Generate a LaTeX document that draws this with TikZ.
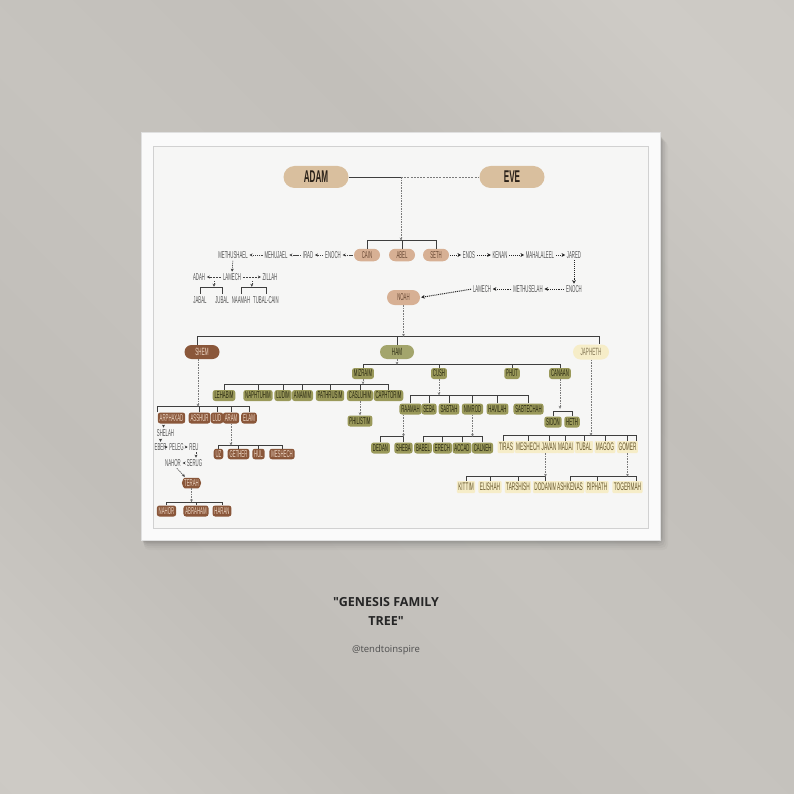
\documentclass[tikz,border=0pt]{standalone}
\usepackage{fontspec}
\usetikzlibrary{arrows.meta,shapes.misc,calc}
\newfontfamily\lab[FakeStretch=0.43]{Liberation Sans}
\newfontfamily\labw[FakeStretch=0.48]{Liberation Sans}
\newfontfamily\titlef[Ligatures=TeXOff]{Open Sans}
\definecolor{bgA}{HTML}{CAC7C2}
\definecolor{bgB}{HTML}{CDCAC5}
\definecolor{bgD}{HTML}{C1BEB9}
\definecolor{bgE}{HTML}{C6C3BE}
\definecolor{bgF}{HTML}{C2BFBA}
\definecolor{bgG}{HTML}{CECBC6}
\definecolor{bgH}{HTML}{C9C6C1}
\definecolor{framec}{HTML}{FAFAFA}
\definecolor{paperc}{HTML}{F6F6F5}
\definecolor{tanc}{HTML}{D9BF9E}
\definecolor{inkc}{HTML}{2A2119}
\definecolor{rosec}{HTML}{D7B094}
\definecolor{rosetxt}{HTML}{6A4A36}
\definecolor{graytxt}{HTML}{555555}
\definecolor{olivec}{HTML}{9A995A}
\definecolor{olivetxt}{HTML}{2A2912}
\definecolor{hamc}{HTML}{A3A56C}
\definecolor{brownc}{HTML}{8A573A}
\definecolor{browntxt}{HTML}{ECD5C3}
\definecolor{yelc}{HTML}{F6EDC8}
\definecolor{yeltxt}{HTML}{65552A}
\definecolor{barc}{HTML}{3E3E3E}
\definecolor{dashc}{HTML}{7A7A7A}
\definecolor{titlec}{HTML}{262626}
\definecolor{handlec}{HTML}{4E4E4E}
\pgfdeclarehorizontalshading{bgshade}{100bp}{color(0bp)=(bgA); color(18bp)=(bgB); color(33bp)=(bgD); color(48bp)=(bgE); color(62bp)=(bgF); color(78bp)=(bgG); color(100bp)=(bgH)}
\tikzset{
  every node/.style={inner sep=0pt},
  tanbig/.style={rounded rectangle, fill=tanc, minimum width=65pt, minimum height=22pt,
    font=\labw\bfseries\fontsize{17}{17}\selectfont, text=inkc},
  tansm/.style={rounded rectangle, fill=rosec, minimum width=26pt, minimum height=12.5pt,
    font=\lab\fontsize{10}{10}\selectfont, text=rosetxt},
  plain/.style={font=\lab\fontsize{10}{10}\selectfont, text=graytxt, inner sep=0.6pt},
  boxbase/.style={rectangle, rounded corners=2.6pt, inner xsep=1.9pt, minimum height=11pt,
    font=\lab\fontsize{10}{10}\selectfont},
  olv/.style={boxbase, fill=olivec, text=olivetxt},
  brn/.style={boxbase, fill=brownc, text=browntxt},
  yel/.style={boxbase, rounded corners=1pt, minimum height=12pt, fill=yelc, text=yeltxt,
    font=\lab\fontsize{11}{11}\selectfont, inner xsep=1.4pt},
  bigpill/.style={rounded rectangle, minimum height=14pt, font=\lab\fontsize{10.5}{10.5}\selectfont},
  bar/.style={draw=barc, line width=0.7pt},
  solidl/.style={draw=barc, line width=0.8pt},
  dashl/.style={draw=dashc, line width=0.7pt, dash pattern=on 2pt off 1.2pt},
  darrow/.style={draw=dashc, line width=0.6pt, dash pattern=on 1.6pt off 1pt,
    -{Stealth[length=3pt,width=2.8pt]}},
  carrow/.style={draw=black!75, line width=0.6pt, dash pattern=on 1.3pt off 0.8pt,
    -{Stealth[length=3pt,width=3pt]}, shorten <=1.2pt, shorten >=1pt},
  dotarrow/.style={draw=black!85, line width=1pt, dash pattern=on 1pt off 0.9pt,
    -{Stealth[length=3.6pt,width=3.8pt]}, shorten <=1.2pt, shorten >=1pt},
}
\begin{document}
\begin{tikzpicture}[x=1pt,y=-1pt]
\useasboundingbox (0,0) rectangle (794,794);
% ---------- background ----------
\shade[shading=bgshade, shading angle=45] (0,0) rectangle (794,794);
% ---------- frame ----------
\foreach \o/\a in {10/0.025,8/0.03,6/0.04,4/0.05,2.5/0.06,1.2/0.07}{
  \fill[black,opacity=\a,rounded corners=5pt] (141+\o*0.3,132+\o*0.9) rectangle (660+\o*0.8,540+\o*1.0);
}
\fill[framec] (141,132) rectangle (660,540);
\draw[black!12,line width=0.5pt] (141,132) rectangle (660,540);
\fill[paperc] (153,146) rectangle (648,528);
\draw[black!18,line width=0.6pt] (153,146) rectangle (648,528);
% ---------- Adam & Eve ----------
\node[tanbig] (adam) at (316,177) {ADAM};
\node[tanbig] (eve) at (512,177) {EVE};
\coordinate (j1) at (401,177);
\draw[solidl] (adam.east) -- (j1);
\draw[dashl] (j1) -- (eve.west);
\node[tansm] (cain) at (367,255) {CAIN};
\node[tansm] (abel) at (402,255) {ABEL};
\node[tansm] (seth) at (436,255) {SETH};
\draw[bar] (cain.north) -- ++(0,-8) coordinate (b0) -| (seth.north);
\draw[bar] (abel.north) -- (abel.north |- b0);
\draw[darrow] (j1) -- (j1 |- b0);
% ---------- Cain line ----------
\node[plain] (enochA) at (333,255) {ENOCH};
\node[plain] (irad) at (308,255) {IRAD};
\node[plain] (mehujael) at (276,255) {MEHUJAEL};
\node[plain] (methushael) at (233,255) {METHUSHAEL};
\draw[carrow] (cain.west) -- (enochA.east);
\draw[carrow] (enochA.west) -- (irad.east);
\draw[carrow] (irad.west) -- (mehujael.east);
\draw[carrow] (mehujael.west) -- (methushael.east);
\node[plain] (lamechA) at (232,277) {LAMECH};
\node[plain] (adah) at (199,277) {ADAH};
\node[plain] (zillah) at (270,277) {ZILLAH};
\draw[carrow] (methushael.south) -- (lamechA.north);
\draw[carrow,dash pattern=on 0.8pt off 0.7pt] (lamechA.west) -- (adah.east);
\draw[carrow,dash pattern=on 0.8pt off 0.7pt] (lamechA.east) -- (zillah.west);
\node[plain] (jabal) at (200,300) {JABAL};
\node[plain] (jubal) at (222,300) {JUBAL};
\node[plain] (naamah) at (241,300) {NAAMAH};
\node[plain] (tubalcain) at (266,300) {TUBAL-CAIN};
\draw[solidl,line width=0.9pt] ([yshift=2pt]jabal.north) -- ++(0,-6) coordinate (bk1) -| ([yshift=2pt]jubal.north);
\draw[solidl,line width=0.9pt] ([yshift=2pt]naamah.north) -- ++(0,-6) coordinate (bk2) -| ([yshift=2pt]tubalcain.north);
\coordinate (m1) at ($(adah.east)!0.5!(lamechA.west)+(0,4)$);
\coordinate (m2) at ($(zillah.west)!0.5!(lamechA.east)+(0,4)$);
\draw[carrow,shorten <=0pt] (m1) -- (m1 |- bk1);
\draw[carrow,shorten <=0pt] (m2) -- (m2 |- bk2);
% ---------- Seth line ----------
\node[plain] (enos) at (469,255) {ENOS};
\node[plain] (kenan) at (500,255) {KENAN};
\node[plain] (mahalaleel) at (540,255) {MAHALALEEL};
\node[plain] (jared) at (574,255) {JARED};
\draw[dotarrow] (seth.east) -- (enos.west);
\draw[dotarrow] (enos.east) -- (kenan.west);
\draw[dotarrow] (kenan.east) -- (mahalaleel.west);
\draw[dotarrow] (mahalaleel.east) -- (jared.west);
\node[plain] (enochB) at (574,289) {ENOCH};
\node[plain] (methuselah) at (528,289) {METHUSELAH};
\node[plain] (lamechB) at (482,289) {LAMECH};
\node[tansm,minimum width=33pt,minimum height=15pt] (noah) at (403.5,297.5) {NOAH};
\draw[dotarrow] (jared.south) -- (enochB.north);
\draw[dotarrow] (enochB.west) -- (methuselah.east);
\draw[dotarrow] (methuselah.west) -- (lamechB.east);
\draw[dotarrow] (lamechB.west) -- (noah.east);
% ---------- Noah's sons ----------
\node[bigpill,fill=brownc,text=browntxt,minimum width=35pt] (shem) at (202,352) {SHEM};
\node[bigpill,fill=hamc,text=olivetxt,minimum width=34pt] (ham) at (397,352) {HAM};
\node[bigpill,fill=yelc,text=yeltxt!80!white,minimum width=36pt,minimum height=15pt] (japheth) at (591,352) {JAPHETH};
\draw[bar] ([xshift=-5pt]shem.north) -- ++(0,-8) coordinate (b1) -| ([xshift=8pt]japheth.north);
\draw[bar] (ham.north) -- (ham.north |- b1);
\draw[darrow] (noah.south) -- (noah.south |- b1);
% ---------- Ham ----------
\node[olv] (mizraim) at (363,373.5) {MIZRAIM};
\node[olv] (cush) at (439,373.5) {CUSH};
\node[olv] (phut) at (512,373.5) {PHUT};
\node[olv] (canaan) at (560,373.5) {CANAAN};
\draw[bar] (mizraim.north) -- ++(0,-3) coordinate (b2) -| (canaan.north);
\foreach \n in {cush,phut} \draw[bar] (\n.north) -- (\n.north |- b2);
\draw[darrow] (ham.south) -- (ham.south |- b2);
% Mizraim
\node[olv] (lehabim) at (224,395.5) {LEHABIM};
\node[olv] (naphtuhim) at (258,395.5) {NAPHTUHIM};
\node[olv] (ludim) at (283,395.5) {LUDIM};
\node[olv] (anamim) at (302.5,395.5) {ANAMIM};
\node[olv] (pathrusim) at (330,395.5) {PATHRUSIM};
\node[olv] (casluhim) at (360,395.5) {CASLUHIM};
\node[olv] (caphtorim) at (388.5,395.5) {CAPHTORIM};
\node[olv] (philistim) at (360,421) {PHILISTIM};
\draw[bar] (lehabim.north) -- ++(0,-5.5) coordinate (b3) -| (caphtorim.north);
\foreach \n in {naphtuhim,ludim,anamim,pathrusim,casluhim} \draw[bar] (\n.north) -- (\n.north |- b3);
\draw[darrow] (mizraim.south) -- (mizraim.south |- b3);
\draw[darrow] (casluhim.south) -- (philistim.north);
% Cush
\node[olv] (raamah) at (410.5,409) {RAAMAH};
\node[olv] (seba) at (429,409) {SEBA};
\node[olv] (sabtah) at (449,409) {SABTAH};
\node[olv] (nimrod) at (472.5,409) {NIMROD};
\node[olv] (havilah) at (497.5,409) {HAVILAH};
\node[olv] (sabtechah) at (528.5,409) {SABTECHAH};
\draw[bar] (raamah.north) -- ++(0,-8) coordinate (b4) -| (sabtechah.north);
\foreach \n in {seba,sabtah,nimrod,havilah} \draw[bar] (\n.north) -- (\n.north |- b4);
\draw[darrow] (cush.south) -- (cush.south |- b4);
\node[olv] (dedan) at (380.5,448) {DEDAN};
\node[olv] (sheba) at (403.5,448) {SHEBA};
\draw[bar] (dedan.north) -- ++(0,-5.5) coordinate (b5) -| (sheba.north);
\draw[darrow] (raamah.south -| sheba.north) -- (sheba.north |- b5);
\node[olv] (babel) at (423,448) {BABEL};
\node[olv] (erech) at (442.5,448) {ERECH};
\node[olv] (accad) at (462,448) {ACCAD};
\node[olv] (calneh) at (482.5,448) {CALNEH};
\draw[bar] (babel.north) -- ++(0,-5.5) coordinate (b6) -| (calneh.north);
\foreach \n in {erech,accad} \draw[bar] (\n.north) -- (\n.north |- b6);
\draw[darrow] (nimrod.south) -- (nimrod.south |- b6);
\node[olv] (sidon) at (553,422) {SIDON};
\node[olv] (heth) at (572,422) {HETH};
\draw[bar] (sidon.north) -- ++(0,-4.5) coordinate (b7) -| (heth.north);
\draw[darrow] (canaan.south) -- ([yshift=3pt]canaan.south |- b7);
% ---------- Japheth ----------
\node[yel] (tiras) at (506,447) {TIRAS};
\node[yel] (meshechJ) at (528,447) {MESHECH};
\node[yel] (javan) at (549,447) {JAVAN};
\node[yel] (madai) at (565.5,447) {MADAI};
\node[yel] (tubal) at (584,447) {TUBAL};
\node[yel] (magog) at (605,447) {MAGOG};
\node[yel] (gomer) at (627.5,447) {GOMER};
\draw[bar] ([xshift=-3pt]tiras.north) -- ++(0,-5) coordinate (b8) -| ([xshift=9pt]gomer.north);
\foreach \n in {meshechJ,javan,madai,tubal,magog,gomer} \draw[bar] (\n.north) -- (\n.north |- b8);
\draw[darrow] (japheth.south) -- (japheth.south |- b8);
\node[yel] (kittim) at (466,487) {KITTIM};
\node[yel] (elishah) at (490,487) {ELISHAH};
\node[yel] (tarshish) at (518,487) {TARSHISH};
\node[yel] (dodanim) at (545.5,487) {DODANIM};
\draw[bar] (kittim.north) -- ++(0,-4) coordinate (b9) -| (dodanim.north);
\foreach \n in {elishah,tarshish} \draw[bar] (\n.north) -- (\n.north |- b9);
\draw[darrow] (javan.south -| dodanim.north) -- (dodanim.north |- b9);
\node[yel] (ashkenas) at (570,487) {ASHKENAS};
\node[yel] (riphath) at (597,487) {RIPHATH};
\node[yel] (togermah) at (627.5,487) {TOGERMAH};
\draw[bar] (ashkenas.north) -- ++(0,-4) coordinate (b10) -| ([xshift=9pt]togermah.north);
\draw[bar] (riphath.north) -- (riphath.north |- b10);
\draw[darrow] (gomer.south) -- (gomer.south |- b10);
% ---------- Shem ----------
\node[brn] (arphaxad) at (171.5,418) {ARPHAXAD};
\node[brn] (asshur) at (199.5,418) {ASSHUR};
\node[brn] (lud) at (217,418) {LUD};
\node[brn] (aram) at (231,418) {ARAM};
\node[brn] (elam) at (249,418) {ELAM};
\draw[bar] ([xshift=-14pt]arphaxad.north) -- ++(0,-5.5) coordinate (b11) -| (elam.north);
\foreach \n in {asshur,lud,aram} \draw[bar] (\n.north) -- (\n.north |- b11);
\draw[darrow] ([xshift=-4pt]shem.south) -- ([xshift=-4pt]shem.south |- b11);
\node[brn,minimum height=10.5pt] (uz) at (218.5,454) {UZ};
\node[brn,minimum height=10.5pt] (gether) at (238.5,454) {GETHER};
\node[brn,minimum height=10.5pt] (hul) at (258.5,454) {HUL};
\node[brn,minimum height=10.5pt] (meshechA) at (282,454) {MESHECH};
\draw[bar] (uz.north) -- ++(0,-3) coordinate (b12) -| (meshechA.north);
\foreach \n in {gether,hul} \draw[bar] (\n.north) -- (\n.north |- b12);
\draw[darrow] (aram.south) -- (aram.south |- b12);
% Arphaxad line
\node[plain] (shelah) at (165.5,433) {SHELAH};
\node[plain] (eber) at (160.5,447) {EBER};
\node[plain] (peleg) at (176.5,447) {PELEG};
\node[plain] (reu) at (194,447) {REU};
\node[plain] (serug) at (194.5,463) {SERUG};
\node[plain] (nahorA) at (173,463) {NAHOR};
\node[brn,rounded rectangle,minimum width=23pt,minimum height=10.5pt] (terah) at (191.5,483) {TERAH};
\draw[carrow] ([xshift=-2pt]shelah.north |- arphaxad.south) -- ([xshift=-2pt]shelah.north);
\draw[carrow] (eber.north |- shelah.south) -- (eber.north);
\draw[carrow,dash pattern=] (eber.east) -- (peleg.west);
\draw[carrow,dash pattern=] (peleg.east) -- (reu.west);
\draw[carrow] ([xshift=2pt]reu.south) -- ([xshift=2pt]reu.south |- serug.north);
\draw[carrow,dash pattern=] (serug.west) -- (nahorA.east);
\draw[carrow] ([xshift=3pt]nahorA.south) -- ([xshift=-6pt]terah.north);
\node[brn] (nahorB) at (166.5,511) {NAHOR};
\node[brn] (abraham) at (196,511) {ABRAHAM};
\node[brn] (haran) at (222,511) {HARAN};
\draw[bar] (nahorB.north) -- ++(0,-3) coordinate (b13) -| (haran.north);
\draw[bar] (abraham.north) -- (abraham.north |- b13);
\draw[darrow] (terah.south) -- (terah.south |- b13);
% ---------- caption ----------
\node[font=\titlef\bfseries\fontsize{12.5}{19}\selectfont, text=titlec, align=center] (title) at (386,611) {"GENESIS FAMILY\\TREE"};
\node[font=\titlef\fontsize{9.5}{10}\selectfont, text=handlec] (handle) at (386,650) {@tendtoinspire};
\end{tikzpicture}
\end{document}
